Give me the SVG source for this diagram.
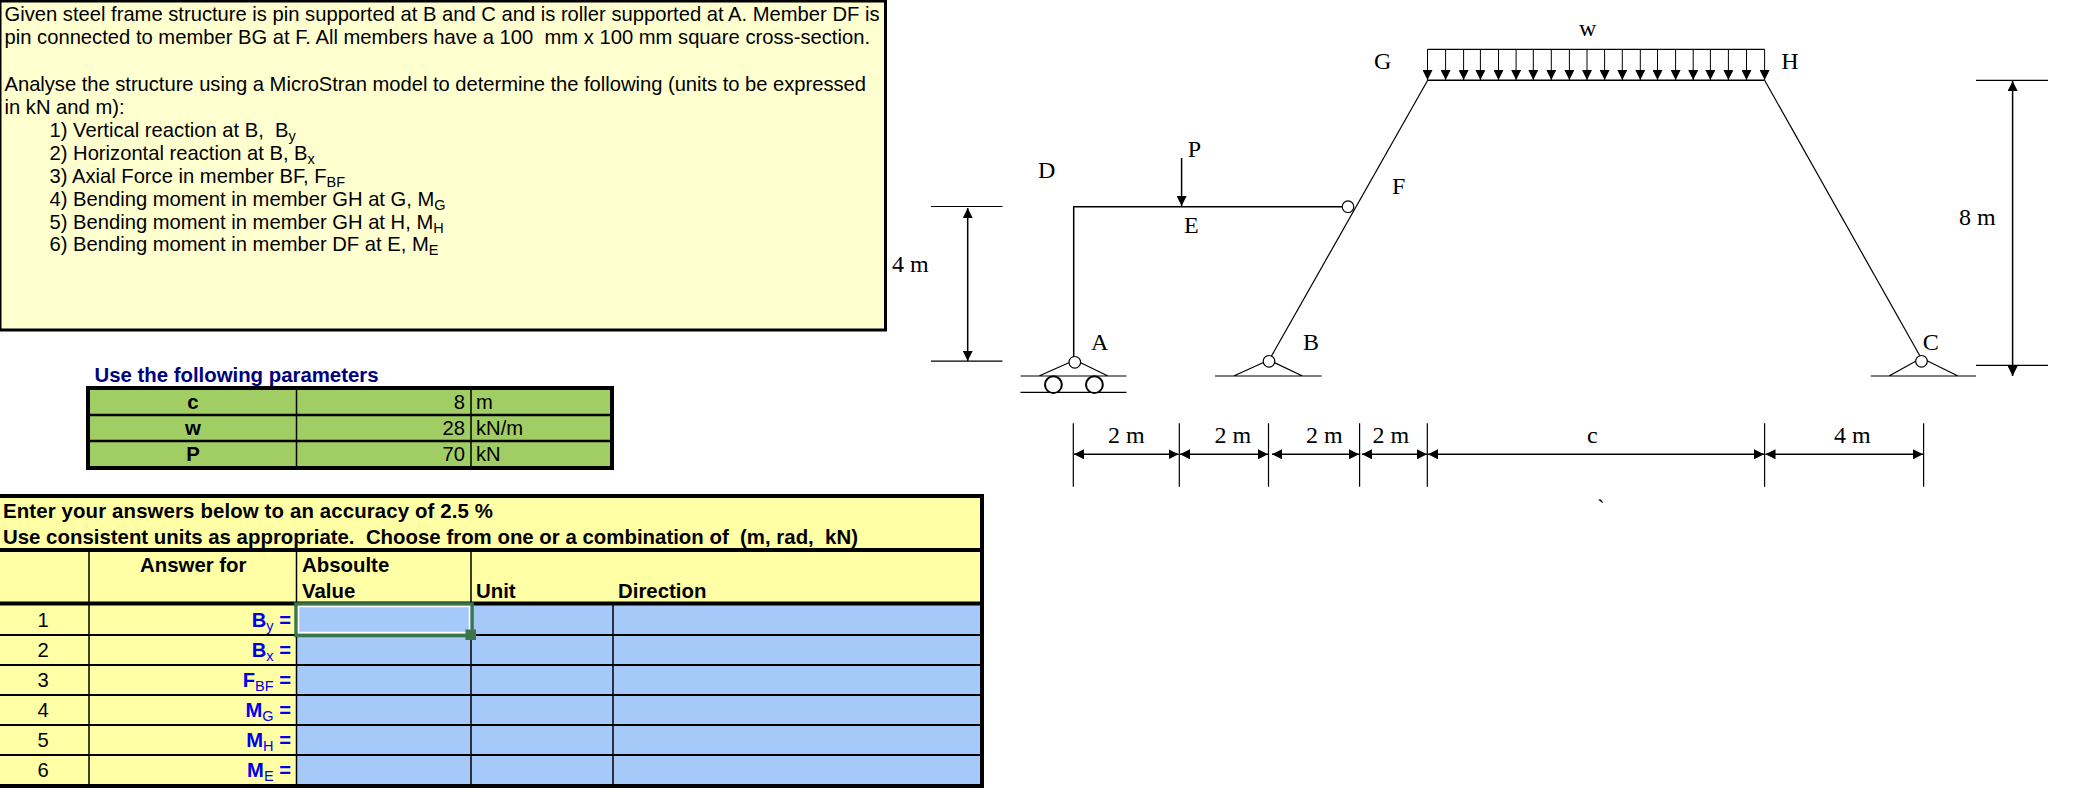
<svg xmlns="http://www.w3.org/2000/svg" width="2074" height="796" viewBox="0 0 2074 796">
<style>
text{font-family:"Liberation Sans",Arial,sans-serif;font-size:20.2px;fill:#000;white-space:pre}
.b{font-weight:bold;font-size:20.4px}
.sub{font-size:14.5px;font-weight:normal}
.r{text-anchor:end}
.m{text-anchor:middle}
.blue{fill:#0000f0;font-weight:bold}
.t text,text.t{font-family:"Liberation Serif","Times New Roman",serif;font-size:24px}
.l{stroke:#000;stroke-width:1.5;fill:none}
.g{stroke:#000;stroke-width:1.2;fill:none}
.pin{fill:#fff;stroke:#000;stroke-width:1.2}
.roll{fill:#fff;stroke:#000;stroke-width:2}
.udl{stroke:#000;stroke-width:1;fill:none;marker-end:url(#ah)}
.dim{stroke:#000;stroke-width:1.5;fill:none;marker-start:url(#dh);marker-end:url(#dh)}
.cell{fill:#a5c9f9}
</style>
<defs>
<marker id="ah" markerUnits="userSpaceOnUse" markerWidth="10" markerHeight="10" refX="10" refY="5" orient="auto"><path d="M0,0L10,5L0,10z" fill="#000"/></marker>
<marker id="dh" markerUnits="userSpaceOnUse" markerWidth="10" markerHeight="10" refX="10" refY="5" orient="auto-start-reverse"><path d="M0,0L10,5L0,10z" fill="#000"/></marker>
</defs>
<rect width="2074" height="796" fill="#fff"/>

<g id="problem-box">
<rect x="0" y="1" width="885.5" height="329" fill="#ffffd0" stroke="#000" stroke-width="3"/>
<text x="4.5" y="20.5" textLength="875">Given steel frame structure is pin supported at B and C and is roller supported at A. Member DF is</text>
<text x="4.5" y="44" textLength="865.5">pin connected to member BG at F. All members have a 100  mm x 100 mm square cross-section.</text>
<text x="4.5" y="90.5" textLength="861.5">Analyse the structure using a MicroStran model to determine the following (units to be expressed</text>
<text x="4.5" y="113.5">in kN and m):</text>
<text x="49.5" y="136.5">1) Vertical reaction at B,  B<tspan class="sub" dy="4">y</tspan></text>
<text x="49.5" y="159.5">2) Horizontal reaction at B, B<tspan class="sub" dy="4">x</tspan></text>
<text x="49.5" y="182.5">3) Axial Force in member BF, F<tspan class="sub" dy="4">BF</tspan></text>
<text x="49.5" y="205.5">4) Bending moment in member GH at G, M<tspan class="sub" dy="4">G</tspan></text>
<text x="49.5" y="228.5">5) Bending moment in member GH at H, M<tspan class="sub" dy="4">H</tspan></text>
<text x="49.5" y="251">6) Bending moment in member DF at E, M<tspan class="sub" dy="4">E</tspan></text>
</g>

<g id="parameters">
<text x="94.5" y="381.5" class="b" style="fill:#000080" textLength="284">Use the following parameters</text>
<rect x="88" y="388" width="524" height="80" fill="#a0ce64" stroke="#000" stroke-width="4"/>
<path d="M88,415H612M88,441H612" stroke="#000" stroke-width="2.5" fill="none"/>
<path d="M296.5,388V468M471,388V468" stroke="#000" stroke-width="1.5" fill="none"/>
<text x="193" y="409" class="b m">c</text><text x="465" y="409" class="r">8</text><text x="476" y="409">m</text>
<text x="193" y="435" class="b m">w</text><text x="465" y="435" class="r">28</text><text x="476" y="435">kN/m</text>
<text x="193" y="461" class="b m">P</text><text x="465" y="461" class="r">70</text><text x="476" y="461">kN</text>
</g>

<g id="answers">
<rect x="-3" y="496" width="985" height="290" fill="#ffffa6"/>
<rect class="cell" x="297" y="604" width="684" height="181"/>
<path d="M-3,496H982V786H-3" stroke="#000" stroke-width="4" fill="none"/>
<path d="M0,550H982M0,603.5H982" stroke="#000" stroke-width="4" fill="none"/>
<path d="M0,635H982M0,665H982M0,695H982M0,725H982M0,755H982" stroke="#000" stroke-width="2" fill="none"/>
<path d="M89,552V785M296.5,552V785M471,552V785M613,603V785" stroke="#000" stroke-width="1.5" fill="none"/>
<text x="3" y="518" class="b" textLength="490">Enter your answers below to an accuracy of 2.5 %</text>
<text x="3" y="544" class="b" textLength="855">Use consistent units as appropriate.  Choose from one or a combination of  (m, rad,  kN)</text>
<text x="140" y="571.5" class="b">Answer for</text>
<text x="302" y="571.5" class="b">Absoulte</text>
<text x="302" y="598" class="b">Value</text>
<text x="476" y="598" class="b">Unit</text>
<text x="618" y="598" class="b">Direction</text>
<text x="43" y="627" class="m">1</text><text x="43" y="657" class="m">2</text><text x="43" y="687" class="m">3</text><text x="43" y="717" class="m">4</text><text x="43" y="747" class="m">5</text><text x="43" y="777" class="m">6</text>
<text x="291" y="627" class="r blue">B<tspan class="sub" dy="4" style="fill:#0000f0">y</tspan><tspan dy="-4"> =</tspan></text>
<text x="291" y="657" class="r blue">B<tspan class="sub" dy="4" style="fill:#0000f0">x</tspan><tspan dy="-4"> =</tspan></text>
<text x="291" y="687" class="r blue">F<tspan class="sub" dy="4" style="fill:#0000f0">BF</tspan><tspan dy="-4"> =</tspan></text>
<text x="291" y="717" class="r blue">M<tspan class="sub" dy="4" style="fill:#0000f0">G</tspan><tspan dy="-4"> =</tspan></text>
<text x="291" y="747" class="r blue">M<tspan class="sub" dy="4" style="fill:#0000f0">H</tspan><tspan dy="-4"> =</tspan></text>
<text x="291" y="777" class="r blue">M<tspan class="sub" dy="4" style="fill:#0000f0">E</tspan><tspan dy="-4"> =</tspan></text>
<rect x="296" y="604" width="176" height="31.5" fill="#a5c9f9" stroke="#3a754c" stroke-width="3.5"/>
<rect x="298.5" y="606.5" width="171" height="26" fill="none" stroke="#fff" stroke-width="1.5"/>
<rect x="465.5" y="629.5" width="10.5" height="10.5" fill="#3a754c"/>
</g>

<g id="connectors">
<path class="l" d="M1073.7,357V206.7H1342"/>
<path class="g" d="M1271.5,356L1427.7,80.3"/>
<path class="g" d="M1764.6,80.3L1920,356"/>
<path class="l" d="M1427.5,80.3H1764.6"/>
<path class="l" d="M1181.6,158V206" style="marker-end:url(#ah)"/>
<path class="g" d="M1427.5,49.3H1764.6"/>
<g id="udl-arrows">
<path class="udl" d="M1427.5,49.3V80"/><path class="udl" d="M1445.6,49.3V80"/><path class="udl" d="M1463.6,49.3V80"/><path class="udl" d="M1480.4,49.3V80"/><path class="udl" d="M1498.5,49.3V80"/><path class="udl" d="M1516.1,49.3V80"/><path class="udl" d="M1533.3,49.3V80"/><path class="udl" d="M1551.3,49.3V80"/><path class="udl" d="M1569.4,49.3V80"/><path class="udl" d="M1587,49.3V80"/><path class="udl" d="M1604.6,49.3V80"/><path class="udl" d="M1622.3,49.3V80"/><path class="udl" d="M1640.3,49.3V80"/><path class="udl" d="M1657.5,49.3V80"/><path class="udl" d="M1675.6,49.3V80"/><path class="udl" d="M1693.2,49.3V80"/><path class="udl" d="M1710.4,49.3V80"/><path class="udl" d="M1728.4,49.3V80"/><path class="udl" d="M1746.5,49.3V80"/><path class="udl" d="M1764.6,49.3V80"/>
</g>
<g id="dimensions">
<path class="g" d="M931,206.5H1002.5M931,361.2H1002.5"/>
<path class="dim" d="M967.7,208V361"/>
<path class="g" d="M1976,80.3H2048M1976,365.3H2048"/>
<path class="dim" d="M2012.6,81V376"/>
<path class="g" d="M1073.3,423.3V486.7M1179.3,423.3V486.7M1268.5,423.3V486.7M1359.6,423.3V486.7M1427.3,423.3V486.7M1764.6,423.3V486.7M1923.6,423.3V486.7"/>
<path class="dim" d="M1074,454.3H1178.5"/>
<path class="dim" d="M1180,454.3H1268"/>
<path class="dim" d="M1272,454.3H1359"/>
<path class="dim" d="M1362,454.3H1427"/>
<path class="dim" d="M1428,454.3H1764"/>
<path class="dim" d="M1765.5,454.3H1923"/>
</g>
</g>

<g id="support-A">
<path class="g" d="M1039,376L1075,360M1108,376L1075,360M1020.5,376H1126.5M1020.5,392.3H1126.5"/>
<circle class="pin" cx="1074.8" cy="362.3" r="5.8"/>
<circle class="roll" cx="1053.4" cy="384.7" r="8.4"/>
<circle class="roll" cx="1094.4" cy="384.7" r="8.4"/>
</g>
<g id="support-B">
<path class="g" d="M1233.7,376L1269,360M1302.5,376L1269,360M1215,376H1321.7"/>
<circle class="pin" cx="1269" cy="361.3" r="5.8"/>
</g>
<g id="support-C">
<path class="g" d="M1889,376L1921.5,358M1958,376L1921.5,358M1870.8,376H1976"/>
<circle class="pin" cx="1921.5" cy="361.3" r="5.8"/>
</g>
<g id="pin-F"><circle class="pin" cx="1348" cy="206.7" r="5.8"/></g>

<g id="labels" class="t">
<text x="1038" y="177.7">D</text>
<text x="1187.7" y="156.7">P</text>
<text x="1184" y="232.7">E</text>
<text x="1392" y="194">F</text>
<text x="1374" y="68.7">G</text>
<text x="1781.3" y="68.7">H</text>
<text x="1579" y="36">w</text>
<text x="1091" y="350">A</text>
<text x="1303" y="350">B</text>
<text x="1922.8" y="350">C</text>
<text x="892" y="271.7">4 m</text>
<text x="1959" y="225">8 m</text>
<text x="1108" y="442.7">2 m</text>
<text x="1214.5" y="442.7">2 m</text>
<text x="1306" y="442.7">2 m</text>
<text x="1372.6" y="442.7">2 m</text>
<text x="1587" y="442.7">c</text>
<text x="1834" y="442.7">4 m</text>
<text x="1597" y="516">`</text>
</g>
</svg>
